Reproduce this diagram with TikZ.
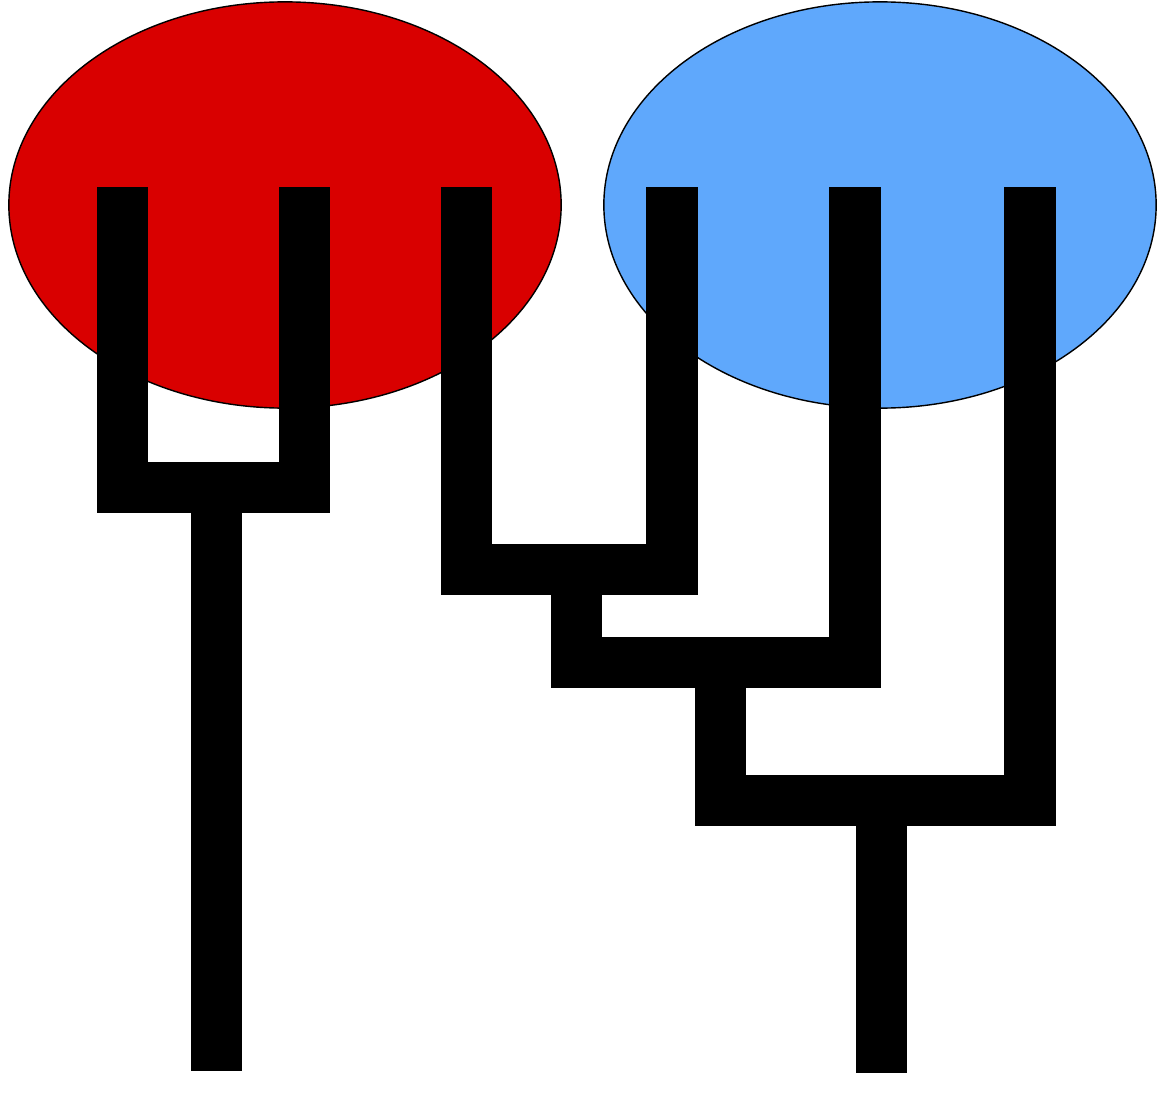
\documentclass[tikz,border=0pt]{standalone}
\usetikzlibrary{shapes.geometric}
\definecolor{cladered}{HTML}{D90000}
\definecolor{cladeblue}{HTML}{5FA8FC}

\begin{document}
\begin{tikzpicture}[
    x=0.01cm, y=-0.01cm,
    clade/.style={ellipse, draw=black, thin, minimum width=5.52cm, minimum height=4.06cm, inner sep=0pt},
    branch/.style={line width=0.515cm, line join=miter, line cap=butt}
]
\useasboundingbox (0,0) rectangle (1166,1100);

% Clades
\node[clade, fill=cladered] (redclade) at (285,205) {};
\node[clade, fill=cladeblue] (blueclade) at (880,205) {};

% Tips
\coordinate (tipa) at (122.5,187);
\coordinate (tipb) at (304.5,187);
\coordinate (tipc) at (466.5,187);
\coordinate (tipd) at (672,187);
\coordinate (tipe) at (855,187);
\coordinate (tipf) at (1030,187);

% Roots
\coordinate (rootl) at (216.5,1071);
\coordinate (rootr) at (881.5,1073);

% Left tree
\draw[branch] (tipa) -- (122.5,487.5) -- (304.5,487.5) -- (tipb);
\draw[branch] (216.5,487.5) -- (rootl);

% Right tree
\draw[branch] (tipc) -- (466.5,569.5) -- (672,569.5) -- (tipd);
\draw[branch] (576.5,569.5) -- (576.5,662.5) -- (855,662.5) -- (tipe);
\draw[branch] (720.5,662.5) -- (720.5,800.5) -- (1030,800.5) -- (tipf);
\draw[branch] (881.5,800.5) -- (rootr);

\end{tikzpicture}
\end{document}
